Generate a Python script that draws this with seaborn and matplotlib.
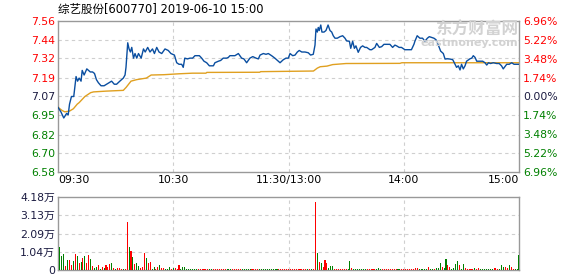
import numpy as np
import pandas as pd
import matplotlib
matplotlib.use("Agg")
import matplotlib.pyplot as plt
import seaborn as sns

# ---------------- data ----------------
title = "综艺股份[600770] 2019-06-10 15:00"
prev_close = 7.07

price_t = [0, 1.5, 3, 4.5, 5.3, 6, 7, 8.2, 9.4, 10.2, 11, 12, 12.6, 13.6, 15, 15.9, 16.8, 18, 19, 20,
           21, 22.4, 24, 25.3, 26.5, 27.9, 29.3, 30.5, 32.2, 34, 34.9, 35.4, 36, 36.3, 37, 37.7, 38.4,
           39.3, 40.1, 41, 41.9, 43.3, 44.5, 45.4, 46.7, 47.9, 49.2, 50.2, 51.4, 52.6, 54, 55.7, 57.4,
           58.8, 60.6, 61.8, 63, 64.4, 65.2, 66, 67.4, 68.7, 70.1, 71.3, 73.6, 74.8, 76, 77.4, 78.8,
           80.9, 81.7, 83.5, 84.7, 86, 87.8, 88.7, 89.5, 92.1, 93.9, 95.6, 96.8, 98.2, 99.9, 101.4,
           103.1, 104.3, 105.2, 106.9, 108.3, 109.5, 111.2, 112.9, 115.6, 117.3, 118.7, 119.9, 120.8,
           122.2, 123.4, 124.6, 125.6, 126.9, 128.6, 130.3, 131.5, 132.9, 133.8, 134.3, 135, 135.5,
           136, 136.8, 137.4, 138.5, 139.5, 140.6, 141.6, 142.5, 143.3, 144.2, 145.4, 146.8, 148.2,
           149.4, 150.3, 151.7, 152.4, 153.4, 154.3, 155.1, 156.3, 157.5, 158.6, 159.8, 160.7, 162.4,
           163.3, 165, 165.9, 167.3, 168.5, 169.7, 172.8, 174.2, 175.4, 176.3, 177.6, 178.8, 180.6,
           184, 185.3, 185.8, 187, 188.4, 189.8, 191, 192.3, 193.3, 194.5, 195.7, 196.8, 198, 199.2,
           200.6, 201.5, 202.7, 204.1, 205.5, 206.7, 207.5, 208.4, 209.3, 210.1, 211, 211.9, 212.7,
           213.6, 214.5, 215.4, 216.2, 217.1, 218, 219.7, 221.1, 222.3, 223.2, 224.1, 225.2, 226.6,
           228.4, 229.7, 230.9, 231.8, 232.7, 233.6, 234.9, 236.2, 237.4, 239.1, 240]
price = [7.00, 6.97, 6.93, 6.96, 6.95, 7.02, 7.07, 7.07, 7.20, 7.17, 7.19, 7.17, 7.24, 7.21, 7.25, 7.24,
         7.23, 7.23, 7.22, 7.18, 7.16, 7.14, 7.14, 7.15, 7.16, 7.17, 7.15, 7.15, 7.17, 7.19, 7.21, 7.26,
         7.37, 7.42, 7.38, 7.36, 7.39, 7.32, 7.35, 7.32, 7.35, 7.32, 7.38, 7.36, 7.39, 7.36, 7.38, 7.35,
         7.39, 7.36, 7.35, 7.38, 7.37, 7.35, 7.34, 7.29, 7.28, 7.28, 7.26, 7.32, 7.315, 7.32, 7.32,
         7.336, 7.336, 7.32, 7.30, 7.29, 7.27, 7.27, 7.29, 7.30, 7.305, 7.32, 7.32, 7.325, 7.336,
         7.336, 7.35, 7.32, 7.315, 7.29, 7.32, 7.33, 7.32, 7.315, 7.34, 7.35, 7.345, 7.35, 7.336,
         7.32, 7.29, 7.31, 7.32, 7.32, 7.35, 7.336, 7.34, 7.36, 7.37, 7.36, 7.36, 7.355, 7.34, 7.345,
         7.405, 7.51, 7.49, 7.52, 7.50, 7.536, 7.49, 7.49, 7.50, 7.536, 7.50, 7.49, 7.466, 7.45, 7.45,
         7.46, 7.466, 7.45, 7.432, 7.43, 7.384, 7.43, 7.384, 7.40, 7.358, 7.39, 7.40, 7.39, 7.39,
         7.375, 7.375, 7.39, 7.416, 7.39, 7.395, 7.41, 7.41, 7.39, 7.405, 7.40, 7.39, 7.39, 7.375,
         7.375, 7.41, 7.43, 7.466, 7.45, 7.45, 7.43, 7.45, 7.46, 7.455, 7.45, 7.44, 7.405, 7.366,
         7.35, 7.314, 7.316, 7.314, 7.31, 7.28, 7.26, 7.27, 7.243, 7.28, 7.25, 7.27, 7.30, 7.308,
         7.316, 7.32, 7.336, 7.325, 7.30, 7.30, 7.30, 7.29, 7.275, 7.29, 7.285, 7.29, 7.285, 7.285,
         7.27, 7.25, 7.265, 7.28, 7.28, 7.29, 7.28, 7.28, 7.28]

avg_t = [0, 2, 3.5, 6, 8, 10, 11, 14, 17, 18.5, 25, 34, 35.5, 38, 41, 46, 48.5, 55, 63, 70, 77,
         77.5, 105, 105.5, 126, 133, 135, 136.5, 140, 143, 150, 178, 179, 240]
avg = [7.00, 6.98, 6.97, 6.975, 6.99, 7.02, 7.03, 7.07, 7.095, 7.10, 7.105, 7.11, 7.13, 7.17, 7.18,
       7.19, 7.21, 7.212, 7.218, 7.222, 7.222, 7.227, 7.228, 7.232, 7.235, 7.236, 7.255, 7.264,
       7.268, 7.278, 7.285, 7.286, 7.29, 7.29]

# volume (万), one bar per minute t = 1..240 ; up = 1 (red), 0 (green)
vol = [1.32, 0.80, 0.92, 0.23, 0.57, 0.57, 0.29, 0.52, 0.92, 0.80,
       0.42, 0.48, 0.67, 0.80, 0.38, 0.86, 0.63, 0.23, 0.11, 0.15,
       0.27, 0.06, 0.15, 0.11, 0.27, 0.15, 0.34, 0.38, 0.10, 0.06,
       0.11, 0.11, 0.08, 0.06, 0.08, 2.75, 1.32, 1.09, 0.74, 0.34,
       0.40, 0.23, 0.11, 0.15, 0.97, 0.67, 0.40, 0.46, 0.06, 0.15,
       0.08, 0.15, 0.27, 0.11, 0.11, 0.06, 0.06, 0.15, 0.06, 0.11,
       0.11, 0.08, 0.27, 0.06, 0.15, 0.15, 0.04, 0.04, 0.04, 0.04,
       0.04, 0.04, 0.04, 0.04, 0.04, 0.04, 0.04, 0.04, 0.04, 0.04,
       0.04, 0.04, 0.04, 0.04, 0.04, 0.04, 0.04, 0.04, 0.04, 0.04,
       0.04, 0.04, 0.04, 0.04, 0.04, 0.04, 0.04, 0.04, 0.04, 0.04,
       0.04, 0.04, 0.04, 0.04, 0.04, 0.04, 0.04, 0.04, 0.04, 0.04,
       0.04, 0.04, 0.04, 0.04, 0.04, 0.04, 0.04, 0.04, 0.04, 0.04,
       0.04, 0.04, 0.04, 0.04, 0.04, 0.04, 0.04, 0.04, 0.04, 0.06,
       0.04, 0.06, 0.04, 3.90, 0.97, 0.46, 0.40, 0.17, 0.57, 0.40,
       0.11, 0.23, 0.23, 0.04, 0.04, 0.04, 0.04, 0.04, 0.04, 0.04,
       0.04, 0.52, 0.10, 0.04, 0.04, 0.04, 0.04, 0.04, 0.04, 0.04,
       0.04, 0.04, 0.04, 0.04, 0.04, 0.04, 0.11, 0.04, 0.04, 0.04,
       0.04, 0.04, 0.04, 0.04, 0.04, 0.04, 0.04, 0.04, 0.04, 0.04,
       0.04, 0.04, 0.04, 0.04, 0.04, 0.11, 0.11, 0.04, 0.04, 0.04,
       0.04, 0.04, 0.17, 0.04, 0.08, 0.06, 0.11, 0.11, 0.40, 0.17,
       0.10, 0.63, 0.29, 0.17, 0.06, 0.11, 0.34, 0.52, 0.29, 0.06,
       0.34, 0.11, 0.06, 0.04, 0.04, 0.04, 0.11, 0.04, 0.11, 0.04,
       0.04, 0.04, 0.04, 0.04, 0.04, 0.04, 0.11, 0.11, 0.06, 0.04,
       0.29, 0.17, 0.17, 0.11, 0.29, 0.17, 0.06, 0.04, 0.04, 0.86]
up = [0, 0, 0, 1, 0, 1, 1, 0, 1, 0,
      1, 0, 1, 0, 1, 1, 0, 1, 0, 0,
      1, 0, 1, 0, 1, 1, 1, 0, 1, 0,
      1, 1, 1, 0, 1, 1, 0, 1, 0, 1,
      0, 0, 1, 1, 1, 0, 1, 1, 0, 0,
      1, 1, 0, 1, 1, 0, 0, 0, 1, 0,
      1, 1, 1, 0, 0, 0, 0, 0, 0, 0,
      0, 0, 1, 1, 1, 1, 1, 1, 0, 0,
      1, 1, 1, 1, 1, 1, 1, 0, 0, 0,
      1, 1, 1, 1, 1, 0, 0, 0, 0, 0,
      1, 1, 1, 1, 0, 0, 0, 0, 0, 0,
      0, 0, 0, 0, 1, 1, 1, 1, 1, 1,
      1, 1, 1, 1, 1, 1, 1, 1, 1, 0,
      1, 0, 1, 1, 0, 1, 0, 1, 1, 1,
      0, 0, 0, 1, 1, 1, 1, 1, 1, 1,
      0, 0, 1, 0, 0, 0, 0, 0, 0, 0,
      1, 1, 1, 1, 1, 0, 0, 0, 1, 1,
      1, 1, 1, 1, 1, 1, 0, 0, 1, 1,
      1, 1, 1, 1, 1, 1, 1, 0, 0, 0,
      0, 0, 1, 0, 0, 1, 0, 0, 0, 1,
      0, 0, 1, 1, 0, 0, 0, 0, 1, 0,
      0, 1, 1, 1, 1, 1, 0, 1, 1, 0,
      0, 0, 0, 0, 0, 0, 1, 1, 1, 0,
      0, 0, 1, 1, 0, 1, 1, 0, 0, 0]
vol_t = list(range(1, 241))

price_ticks = [7.56, 7.44, 7.32, 7.19, 7.07, 6.95, 6.82, 6.70, 6.58]
pct_labels = ["6.96%", "5.22%", "3.48%", "1.74%", "0.00%", "1.74%", "3.48%", "5.22%", "6.96%"]
pct_values = [6.96, 5.22, 3.48, 1.74, 0.0, -1.74, -3.48, -5.22, -6.96]
time_ticks = [0, 60, 120, 180, 240]
time_labels = ["09:30", "10:30", "11:30/13:00", "14:00", "15:00"]
vol_ticks = [0, 1.04, 2.09, 3.13, 4.18]
vol_labels = ["0", "1.04万", "2.09万", "3.13万", "4.18万"]

# ---------------- style ----------------
sns.set_style("white")
plt.rcParams["font.family"] = ["DejaVu Sans", "Noto Sans CJK SC"]
RED = "#ff0000"
GREEN = "#008000"
DARK = "#1a1a40"
GRID = "#cfcfcf"
SPINE = "#999999"
FS = 7.8

fig = plt.figure(figsize=(5.78, 2.76), dpi=100)
ax = fig.add_axes([58 / 578, 1 - 172 / 276, 461 / 578, 151 / 276])
axv = fig.add_axes([58 / 578, 1 - 270 / 276, 461 / 578, 73 / 276])

ymin = prev_close * (1 - 0.0696)
ymax = prev_close * (1 + 0.0696)

# grid
for a in (ax, axv):
    for s in a.spines.values():
        s.set_color(SPINE)
        s.set_linewidth(1.0)
    a.tick_params(length=0)
for v in price_ticks[1:-1]:
    ax.axhline(v, color=GRID, lw=0.8, ls=(0, (3, 3)), zorder=0)
for v in vol_ticks[1:-1]:
    axv.axhline(v, color=GRID, lw=0.8, ls=(0, (3, 3)), zorder=0)
for t in time_ticks[1:-1]:
    ax.axvline(t, color=GRID, lw=0.8, ls=(0, (3, 3)), zorder=0)
    axv.axvline(t, color=GRID, lw=0.8, ls=(0, (3, 3)), zorder=0)

# lines
sns.lineplot(x=avg_t, y=avg, ax=ax, color="#e0a020", lw=1.0, zorder=3)
sns.lineplot(x=price_t, y=price, ax=ax, color="#0a4ea0", lw=1.0, zorder=4)
ax.set_xlim(0, 240)
ax.set_ylim(ymin, ymax)

# y tick labels (left)
ax.set_yticks(price_ticks)
ax.set_yticklabels([f"{v:.2f}" for v in price_ticks], fontsize=FS)
for lab, v in zip(ax.get_yticklabels(), price_ticks):
    lab.set_color(RED if v > prev_close + 1e-6 else (GREEN if v < prev_close - 1e-6 else DARK))
ax.tick_params(axis="y", pad=2)

# right percent labels
axr = ax.twinx()
axr.set_ylim(ymin, ymax)
axr.set_yticks([prev_close * (1 + p / 100) for p in pct_values])
axr.set_yticklabels(pct_labels, fontsize=FS)
for lab, p in zip(axr.get_yticklabels(), pct_values):
    lab.set_color(RED if p > 0 else (GREEN if p < 0 else DARK))
axr.tick_params(length=0, pad=3)
for s in axr.spines.values():
    s.set_visible(False)

# x labels
ax.set_xticks(time_ticks)
ax.set_xticklabels(time_labels, fontsize=FS, color="black")
xl = ax.get_xticklabels()
xl[0].set_ha("left")
xl[-1].set_ha("right")
ax.tick_params(axis="x", pad=2)
ax.set_xlabel("")
ax.set_ylabel("")

# volume bars
df = pd.DataFrame({"t": vol_t, "vol": vol, "dir": ["up" if u else "down" for u in up]})
sns.histplot(data=df, x="t", weights="vol", hue="dir", palette={"up": RED, "down": GREEN},
             discrete=True, shrink=0.55, multiple="layer", element="bars", alpha=1,
             linewidth=0, edgecolor="none", antialiased=False, legend=False, ax=axv, zorder=3)
axv.set_xlim(0, 240)
axv.set_ylim(0, 4.18)
axv.set_xticks([])
axv.set_yticks(vol_ticks)
axv.set_yticklabels(vol_labels, fontsize=FS, color=DARK)
axv.tick_params(axis="y", pad=2)
axv.set_xlabel("")
axv.set_ylabel("")

# title
fig.text(58 / 578, 1 - 9 / 276, title, fontsize=8.3, color="black", ha="left", va="center")

# watermark
fig.text(518 / 578, 1 - 30 / 276, "东方财富网", fontsize=12, color="#d2d2d2",
         ha="right", va="center", fontweight="bold")
fig.text(518 / 578, 1 - 43 / 276, "eastmoney.com", fontsize=8, color="#d2d2d2",
         ha="right", va="center", fontweight="bold")

fig.savefig("out.png", dpi=100)
